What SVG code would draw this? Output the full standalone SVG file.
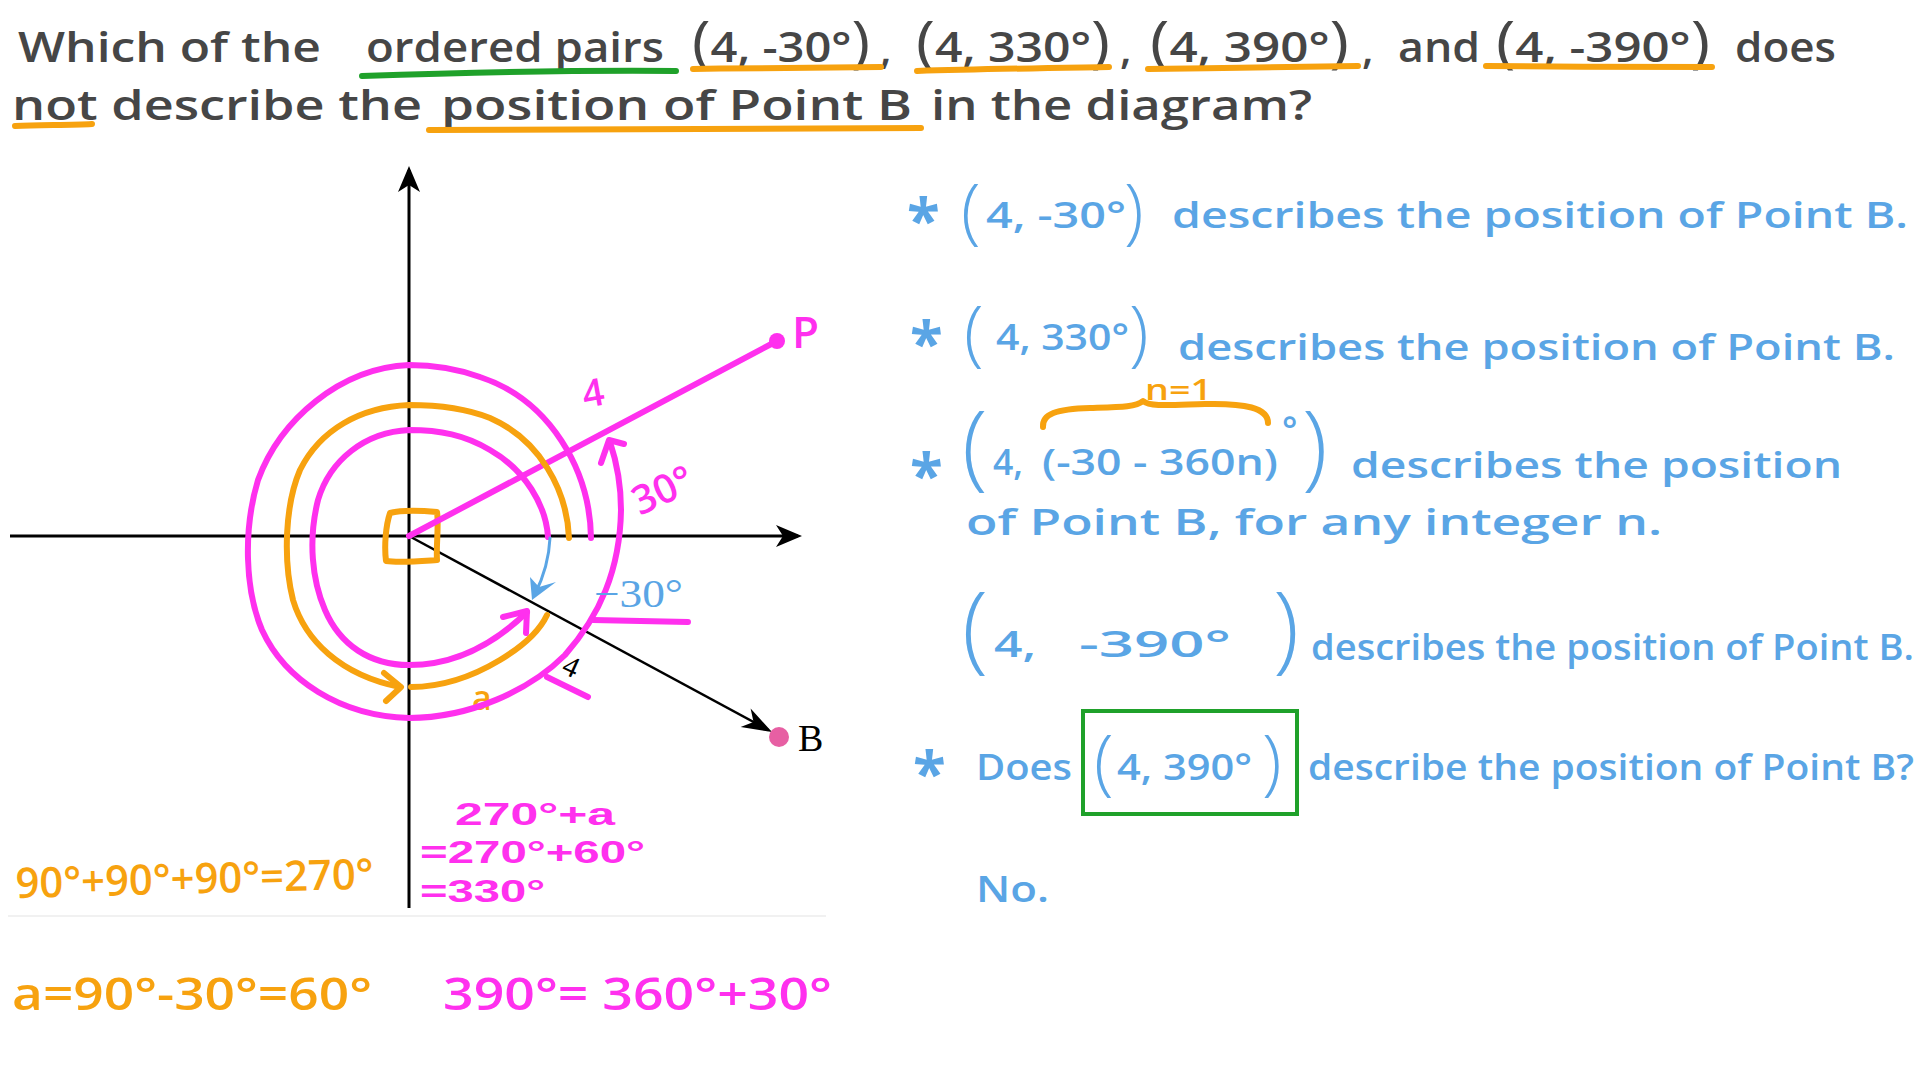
<svg xmlns="http://www.w3.org/2000/svg" width="1920" height="1080" viewBox="0 0 1920 1080">
<style>
text{font-family:"Open Sans","Noto Sans","Liberation Sans",sans-serif;font-weight:600}
.q{fill:#464646;font-size:42px}
.pr{font-size:56px;font-weight:400}
.b{fill:#5aa5e5;font-size:36px}
.bp{fill:#5aa5e5;font-weight:300}
.st{fill:#5aa5e5;font-size:60px;font-weight:700}
.m{fill:#ff30ee}
.o{fill:#f7a20f}
.ls{font-family:"Liberation Sans","Arimo",sans-serif;font-weight:700}
.sf{font-family:"Liberation Serif","DejaVu Serif",serif;font-weight:400}
.ln{fill:none;stroke-linecap:round;stroke-linejoin:round}
.mg{stroke:#ff30ee;stroke-width:6}
.or{stroke:#f7a20f;stroke-width:6}
.gr{stroke:#1fa12a;stroke-width:6}
.bl{stroke:#5aa5e5;stroke-width:3}
.ax{stroke:#000;stroke-width:3;fill:none}
</style>
<defs>
<marker id="ah" markerUnits="userSpaceOnUse" viewBox="-30 -15 36 30" refX="0" refY="0" markerWidth="36" markerHeight="30" orient="auto">
<path d="M4,0 L-22,-11 L-15,0 L-22,11 Z" fill="#000"/>
</marker>
<marker id="ahB" markerUnits="userSpaceOnUse" viewBox="-32 -14 38 28" refX="0" refY="0" markerWidth="38" markerHeight="28" orient="auto">
<path d="M4,0 L-26,-10.5 L-17,0 L-26,10.5 Z" fill="#000"/>
</marker>
</defs>
<rect width="1920" height="1080" fill="#fff"/>

<g id="question">
<text class="q" x="18" y="62" textLength="303" lengthAdjust="spacingAndGlyphs">Which of the</text>
<text class="q" x="366" y="62" textLength="298" lengthAdjust="spacingAndGlyphs">ordered pairs</text>
<text class="q" x="692" y="62" textLength="178" lengthAdjust="spacingAndGlyphs"><tspan class="pr">(</tspan>4, -30°<tspan class="pr">)</tspan></text>
<text class="q" x="880" y="64">,</text>
<text class="q" x="916" y="62" textLength="194" lengthAdjust="spacingAndGlyphs"><tspan class="pr">(</tspan>4, 330°<tspan class="pr">)</tspan></text>
<text class="q" x="1120" y="64">,</text>
<text class="q" x="1150" y="62" textLength="199" lengthAdjust="spacingAndGlyphs"><tspan class="pr">(</tspan>4, 390°<tspan class="pr">)</tspan></text>
<text class="q" x="1362" y="64">,</text>
<text class="q" x="1398" y="62" textLength="82" lengthAdjust="spacingAndGlyphs">and</text>
<text class="q" x="1496" y="62" textLength="214" lengthAdjust="spacingAndGlyphs"><tspan class="pr">(</tspan>4, -390°<tspan class="pr">)</tspan></text>
<text class="q" x="1735" y="62" textLength="101" lengthAdjust="spacingAndGlyphs">does</text>
<text class="q" x="12" y="120" textLength="410" lengthAdjust="spacingAndGlyphs">not describe the</text>
<text class="q" x="441" y="120" textLength="471" lengthAdjust="spacingAndGlyphs">position of Point B</text>
<text class="q" x="931" y="120" textLength="381" lengthAdjust="spacingAndGlyphs">in the diagram?</text>
<path class="ln gr" d="M362,76 C450,73 560,70 676,71"/>
<path class="ln or" d="M693,69 C760,68 830,67 881,67"/>
<path class="ln or" d="M917,71 C980,69 1050,68 1109,67"/>
<path class="ln or" d="M1148,69 C1220,68 1300,67 1358,66"/>
<path class="ln or" d="M1486,66 C1560,67 1640,67 1712,67"/>
<path class="ln or" d="M15,126 C40,125 70,125 92,124"/>
<path class="ln or" d="M429,130 C560,128 740,128 921,128"/>
</g>

<g id="axes">
<path d="M8,916 L826,916" stroke="#f1f1f1" stroke-width="2"/>
<path class="ax" d="M10,536 L798,536" marker-end="url(#ah)"/>
<path class="ax" d="M409,908 L409,170" marker-end="url(#ah)"/>
<path d="M409,536 L768.5,730.1" stroke="#000" stroke-width="2.5" fill="none" marker-end="url(#ahB)"/>
<circle cx="779" cy="737" r="10" fill="#e75fa3"/>
<text class="sf" x="798" y="751" font-size="38" fill="#000">B</text>
</g>

<g id="angles">
<path class="ln or" d="M390,513 C402,510 425,511 437,512 C439,525 436,545 437,560 C422,561 400,563 386,561 C384,545 386,525 390,513 Z"/>
<path class="ln mg" d="M409,536 L777,341"/>
<circle cx="777" cy="341" r="8" fill="#ff30ee"/>
<text class="m" x="792" y="348" font-size="44">P</text>
<text class="m" x="582" y="406" font-size="38" transform="rotate(-10 595 392)">4</text>
<!-- inner magenta 330 -->
<path class="ln mg" d="M548,537 C546,505 525,470 490,450 C465,435 440,430 409,430 C365,432 330,460 318,500 C308,540 312,580 325,610 C340,645 370,665 409,665 C450,665 490,648 527,612"/>
<path class="ln mg" d="M503,617 L527,611 L526,633"/>
<!-- orange 270 -->
<path class="ln or" d="M569,538 C567,490 540,440 490,418 C465,408 440,405 409,405 C360,407 320,430 300,470 C285,505 283,560 293,600 C305,640 340,675 400,687"/>
<path class="ln or" d="M384,673 L401,687 L386,701"/>
<path class="ln or" d="M411,687 C440,687 470,678 500,660 C525,645 540,630 547,615"/>
<text class="o" x="472" y="710" font-size="34">a</text>
<!-- outer magenta 390 -->
<path class="ln mg" d="M591,538 C590,470 550,400 480,377 C455,368 432,365 409,365 C340,368 280,420 258,480 C243,530 245,590 262,630 C285,680 340,716 409,718 C470,718 530,690 565,655 C600,615 620,570 621,510 C621,480 616,460 610,442"/>
<path class="ln mg" d="M601,463 L609,440 L624,444"/>
<text class="m" x="640" y="516" font-size="40" transform="rotate(-25 640 516)">30°</text>
<!-- blue -30 -->
<path class="ln bl" d="M550,538 C549,560 543,578 535,594"/>
<path d="M532,600 L530,577 L539,587 L556,582 Z" fill="#5aa5e5"/>
<text class="sf" x="594" y="607" font-size="40" fill="#5aa5e5" textLength="89" lengthAdjust="spacingAndGlyphs">−30°</text>
<path class="ln mg" d="M593,620 L688,622"/>
<path class="ln mg" d="M547,677 L588,697"/>
<text class="sf" x="564" y="677" font-size="30" fill="#000" transform="rotate(25 573 666)">4</text>
</g>

<g id="working">
<text class="o" x="16" y="898" font-size="42" textLength="358" lengthAdjust="spacingAndGlyphs" transform="rotate(-1.5 16 898)">90°+90°+90°=270°</text>
<text class="m ls" x="455" y="825" font-size="32" textLength="160" lengthAdjust="spacingAndGlyphs">270°+a</text>
<text class="m ls" x="420" y="863" font-size="32" textLength="225" lengthAdjust="spacingAndGlyphs">=270°+60°</text>
<text class="m ls" x="420" y="902" font-size="32" textLength="125" lengthAdjust="spacingAndGlyphs">=330°</text>
<text class="o" x="12" y="1010" font-size="46" textLength="360" lengthAdjust="spacingAndGlyphs">a=90°-30°=60°</text>
<text class="m" x="443" y="1010" font-size="46" textLength="389" lengthAdjust="spacingAndGlyphs">390°= 360°+30°</text>
</g>

<g id="answer">
<text class="st" x="907" y="242">*</text>
<text class="bp" x="961" y="236" font-size="72">(</text>
<text class="b" x="986" y="228" textLength="140" lengthAdjust="spacingAndGlyphs">4, -30°</text>
<text class="bp" x="1124" y="236" font-size="72">)</text>
<text class="b" x="1172" y="228" textLength="736" lengthAdjust="spacingAndGlyphs">describes the position of Point B.</text>

<text class="st" x="910" y="365">*</text>
<text class="bp" x="964" y="358" font-size="72">(</text>
<text class="b" x="996" y="350" textLength="133" lengthAdjust="spacingAndGlyphs">4, 330°</text>
<text class="bp" x="1129" y="358" font-size="72">)</text>
<text class="b" x="1178" y="360" textLength="717" lengthAdjust="spacingAndGlyphs">describes the position of Point B.</text>

<text class="o" x="1145" y="400" font-size="28" textLength="67" lengthAdjust="spacingAndGlyphs">n=1</text>
<path class="ln or" stroke-width="5" d="M1043,427 C1042,414 1056,409 1090,408 C1120,407 1136,407 1143,401 C1150,407 1170,405 1205,404 C1245,403 1268,408 1268,423"/>
<text class="st" x="910" y="497">*</text>
<text class="bp" x="962" y="478" font-size="94">(</text>
<text class="b" x="993" y="475" textLength="30" lengthAdjust="spacingAndGlyphs">4,</text>
<text class="b" x="1042" y="475" textLength="236" lengthAdjust="spacingAndGlyphs">(-30 - 360n)</text>
<text class="b" x="1282" y="443">°</text>
<text class="bp" x="1302" y="478" font-size="94">)</text>
<text class="b" x="1351" y="478" textLength="491" lengthAdjust="spacingAndGlyphs">describes the position</text>
<text class="b" x="966" y="535" textLength="696" lengthAdjust="spacingAndGlyphs">of Point B, for any integer n.</text>

<text class="bp" x="962" y="661" font-size="96">(</text>
<text class="b" x="994" y="657" textLength="42" lengthAdjust="spacingAndGlyphs">4,</text>
<text class="b" x="1079" y="657" textLength="152" lengthAdjust="spacingAndGlyphs">-390°</text>
<text class="bp" x="1273" y="661" font-size="96">)</text>
<text class="b" x="1311" y="660" textLength="603" lengthAdjust="spacingAndGlyphs">describes the position of Point B.</text>

<text class="st" x="913" y="795">*</text>
<text class="b" x="976" y="780" textLength="96" lengthAdjust="spacingAndGlyphs">Does</text>
<rect x="1083" y="711" width="214" height="103" fill="none" stroke="#1fa12a" stroke-width="4"/>
<text class="bp" x="1094" y="787" font-size="72">(</text>
<text class="b" x="1117" y="780" textLength="135" lengthAdjust="spacingAndGlyphs">4, 390°</text>
<text class="bp" x="1262" y="787" font-size="72">)</text>
<text class="b" x="1308" y="780" textLength="606" lengthAdjust="spacingAndGlyphs">describe the position of Point B?</text>

<text class="b" x="976" y="902" textLength="73" lengthAdjust="spacingAndGlyphs">No.</text>
</g>
</svg>
